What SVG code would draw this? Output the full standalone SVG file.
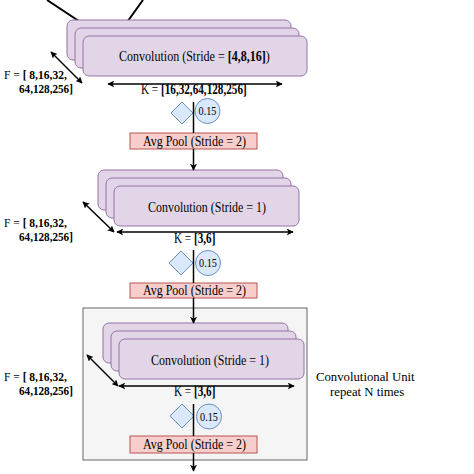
<svg xmlns="http://www.w3.org/2000/svg" width="474" height="474" viewBox="0 0 474 474">
<defs>
<marker id="ah" viewBox="0 0 10 10" refX="9" refY="5" markerWidth="7" markerHeight="7" orient="auto-start-reverse" markerUnits="userSpaceOnUse">
<path d="M0,0 L10,5 L0,10 L2.5,5 z" fill="#000"/>
</marker>
<style>
text{font-family:"Liberation Serif","Times New Roman",serif;font-size:14px;fill:#000}
.b{font-weight:bold}
.f{font-size:12px}
.u{font-size:13px}
.conv{fill:#e1d5e7;stroke:#9673a6;stroke-width:1}
.pool{fill:#f8cecc;stroke:#b85450;stroke-width:1}
.dia{fill:#dae8fc;stroke:#6c8ebf;stroke-width:1}
.ln{stroke:#000;stroke-width:1.5;fill:none}
.arr{stroke:#000;stroke-width:1.5;fill:none;marker-end:url(#ah)}
.darr{stroke:#000;stroke-width:1.5;fill:none;marker-start:url(#ah);marker-end:url(#ah)}
.sm{font-size:12px}
</style>
</defs>
<rect width="474" height="474" fill="#fff"/>

<g id="unit-container">
<rect x="83" y="308" width="224" height="152" fill="#f5f5f5" stroke="#666666" stroke-width="1"/>
<text class="u" transform="translate(316,381) scale(0.98,1)">Convolutional Unit</text>
<text class="u" transform="translate(330,396) scale(0.98,1)">repeat N times</text>
</g>

<g id="top-lines">
<polyline points="47,0 112,43 143,0" fill="none" stroke="#000" stroke-width="2"/>
</g>

<g id="conv1">
<rect class="conv" x="67" y="20" width="224" height="40" rx="6"/>
<rect class="conv" x="75" y="28" width="224" height="40" rx="6"/>
<rect class="conv" x="83" y="36" width="224" height="40" rx="6"/>
<text transform="translate(119,61) scale(0.86,1)">Convolution (Stride = <tspan class="b">[4,8,16]</tspan>)</text>
</g>
<g id="f1">
<text class="f" transform="translate(4,79) scale(0.96,1)">F  = <tspan class="b">[ 8,16,32,</tspan></text>
<text class="f b" transform="translate(19,92.5) scale(0.93,1)">64,128,256]</text>
</g>
<g id="k1"><text transform="translate(141,94) scale(0.8,1)">K = <tspan class="b">[16,32,64,128,256]</tspan></text></g>
<g id="drop1">
<polygon class="dia" points="182,102 193,113 182,124 171,113"/>
<circle class="dia" cx="207.5" cy="111" r="12.5"/>
<text class="sm" text-anchor="middle" transform="translate(207.5,115) scale(0.85,1)">0.15</text>
</g>
<g id="pool1">
<rect class="pool" x="130" y="133" width="127" height="16"/>
<text transform="translate(143,145.5) scale(0.856,1)">Avg Pool (Stride = 2)</text>
</g>

<g id="conv2">
<rect class="conv" x="98" y="170" width="185" height="40" rx="6"/>
<rect class="conv" x="106" y="178" width="185" height="40" rx="6"/>
<rect class="conv" x="114" y="186" width="185" height="40" rx="6"/>
<text transform="translate(148,212) scale(0.855,1)">Convolution (Stride = 1)</text>
</g>
<g id="f2">
<text class="f" transform="translate(4,227) scale(0.96,1)">F  = <tspan class="b">[ 8,16,32,</tspan></text>
<text class="f b" transform="translate(19,240.5) scale(0.93,1)">64,128,256]</text>
</g>
<g id="k2"><text transform="translate(174,243) scale(0.8,1)">K = <tspan class="b">[3,6]</tspan></text></g>
<g id="drop2">
<polygon class="dia" points="181,251 193,263 181,275 169,263"/>
<circle class="dia" cx="208" cy="263" r="12.5"/>
<text class="sm" text-anchor="middle" transform="translate(208,267) scale(0.85,1)">0.15</text>
</g>
<g id="pool2">
<rect class="pool" x="130" y="283" width="127" height="15"/>
<text transform="translate(143,295) scale(0.856,1)">Avg Pool (Stride = 2)</text>
</g>

<g id="conv3">
<rect class="conv" x="103" y="323" width="185" height="40" rx="6"/>
<rect class="conv" x="111" y="331" width="185" height="40" rx="6"/>
<rect class="conv" x="119" y="339" width="185" height="40" rx="6"/>
<text transform="translate(151,365) scale(0.855,1)">Convolution (Stride = 1)</text>
</g>
<g id="f3">
<text class="f" transform="translate(4,381) scale(0.96,1)">F  = <tspan class="b">[ 8,16,32,</tspan></text>
<text class="f b" transform="translate(19,395) scale(0.93,1)">64,128,256]</text>
</g>
<g id="k3"><text transform="translate(174,396) scale(0.8,1)">K = <tspan class="b">[3,6]</tspan></text></g>
<g id="drop3">
<polygon class="dia" points="182,404 194,416 182,428 170,416"/>
<circle class="dia" cx="209" cy="416.5" r="12.5"/>
<text class="sm" text-anchor="middle" transform="translate(209,420.5) scale(0.85,1)">0.15</text>
</g>
<g id="pool3">
<rect class="pool" x="130" y="436" width="127" height="17"/>
<text transform="translate(143,449) scale(0.856,1)">Avg Pool (Stride = 2)</text>
</g>

<g id="connectors">
<line class="darr" x1="51" y1="52" x2="82" y2="83"/>
<line class="darr" x1="108" y1="84" x2="282" y2="84"/>
<line class="ln" x1="193.5" y1="102" x2="193.5" y2="133"/>
<line class="arr" x1="193.5" y1="149" x2="193.5" y2="170"/>

<line class="darr" x1="83" y1="202" x2="114" y2="232"/>
<line class="darr" x1="117" y1="232" x2="293" y2="232"/>
<line class="ln" x1="193.5" y1="250" x2="193.5" y2="283"/>
<line class="arr" x1="193.5" y1="298" x2="193.5" y2="323"/>

<line class="darr" x1="87" y1="355" x2="118" y2="386"/>
<line class="darr" x1="119" y1="386" x2="294" y2="386"/>
<line class="ln" x1="193.5" y1="404" x2="193.5" y2="436"/>
<line class="arr" x1="193.5" y1="453" x2="193.5" y2="471"/>
</g>
</svg>
